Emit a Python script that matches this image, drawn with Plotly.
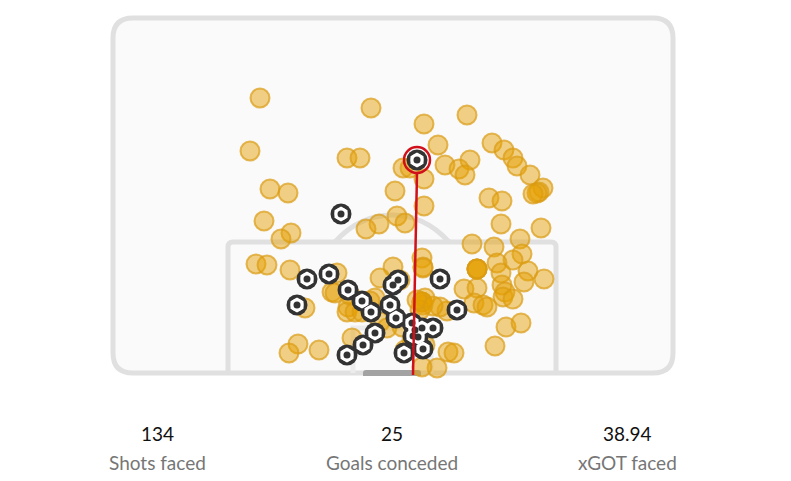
import plotly.graph_objects as go

# Shot positions: x = across the goal from its centre, y = out from the goal line
saved_x = [-132, -21, 32, 75, 46, -142, -45, -32, 100, 112, 121, 125, 78, 53, 67, 73, 11, 18, 32, 138,
           151, 147, 145, 141, -122, -104, 3, 97, 110, 32, -128, 5, 13, -13, -26, 109, 149, -101, -111,
           80, 102, 128, 130, 121, 105, 109, 136, 132, 152, 85, 85, 85, 85, 110, 113, 111, 121, 72, 85,
           82, 91, 95, 55, 48, 114, 129, 103, 56, 62, 45, 30,
           -136, -125, -102, -55, -60, -57, -87, 1, -12, 8, 30, 31, 31,
           30, 30, 30, 31, 28, 33, 25, 41,
           -17, -44, -45, -37, -12, -5, 10, -40, -94, -103, -73,
           -30, -22, 20, 33, 13, -42]
saved_y = [277, 267, 251, 260, 230, 224, 217, 217, 232, 225, 217, 209, 215, 210, 206, 200, 207, 207, 196, 200,
           187, 183, 182, 181, 186, 182, 184, 177, 174, 169, 154, 159, 152, 151, 146, 151, 147, 142, 136,
           131, 128, 136, 121, 115, 112, 102, 104, 93, 96, 106, 106, 106, 106, 90, 83, 78, 76, 86, 87,
           72, 70, 68, 64, 68, 48, 52, 29, 23, 22, 7, 8,
           111, 110, 105, 102, 83, 82, 67, 108, 97, 95, 117, 108, 107,
           73, 73, 73, 70, 65, 77, 75, 69,
           77, 68, 63, 63, 53, 47, 48, 37, 31, 22, 25,
           63, 74, 35, 30, 25, 80]

goal_x = [-85, -63, -44, -30, -21, -95, 1, 6, 48, -2, 4, 65, 20, 30, 41, 21, 26, -17, -29, -45, 12, 31, -51, 23, 25]
goal_y = [96, 101, 85, 74, 63, 70, 90, 95, 96, 70, 57, 65, 52, 47, 47, 39, 38, 42, 30, 20, 22, 26, 161, 45, 215]

# Highlighted goal and where it crosses the line
selected_x = [25]
selected_y = [215]
line_end_x = [21]
line_end_y = [0]

stat_values = ["134", "25", "38.94"]
stat_labels = ["Shots faced", "Goals conceded", "xGOT faced"]
stat_x = [-235, 0, 235]

LINE = "#e0e0e0"
DARK = "#333333"
RED = "#d0111b"

fig = go.Figure()

# Pitch
fig.add_shape(type="path", layer="below",
              path="M -279 22 L -279 337 Q -279 357 -259 357 L 261 357 Q 281 357 281 337 "
                   "L 281 22 Q 281 2 261 2 L -259 2 Q -279 2 -279 22 Z",
              fillcolor="#fafafa", line=dict(color=LINE, width=5))
fig.add_shape(type="path", layer="below",
              path="M -57 133 C -40 152 -22 160 0 160 C 22 160 40 152 57 133",
              line=dict(color=LINE, width=5))
fig.add_shape(type="path", layer="below",
              path="M -164 2 L -164 128 Q -164 133 -159 133 L 159 133 Q 164 133 164 128 L 164 2",
              line=dict(color=LINE, width=5))
fig.add_shape(type="path", layer="below",
              path="M -39 2 L -39 47 L 39 47 L 39 2",
              line=dict(color="#ececec", width=5))
fig.add_shape(type="path", layer="below",
              path="M -29 -1 L -29 2 Q -29 5 -26 5 L 26 5 Q 29 5 29 2 L 29 -1 Z",
              fillcolor="#a3a3a3", line=dict(width=0))

# Shots that did not go in
fig.add_trace(go.Scatter(x=saved_x, y=saved_y, mode="markers", hoverinfo="skip",
                         marker=dict(size=19, color="rgba(229,160,0,0.47)",
                                     line=dict(color="rgba(218,155,20,0.7)", width=2))))

# Goals, drawn as a small ball from stacked markers
fig.add_trace(go.Scatter(x=goal_x, y=goal_y, mode="markers", hoverinfo="skip",
                         marker=dict(size=21, color=DARK, line=dict(width=0))))
fig.add_trace(go.Scatter(x=goal_x, y=goal_y, mode="markers", hoverinfo="skip",
                         marker=dict(size=13, color="white", line=dict(width=0))))
fig.add_trace(go.Scatter(x=goal_x, y=goal_y, mode="markers", hoverinfo="skip",
                         marker=dict(size=15, symbol="hexagon", color="white", line=dict(width=0))))
fig.add_trace(go.Scatter(x=goal_x, y=goal_y, mode="markers", hoverinfo="skip",
                         marker=dict(size=7, color=DARK, line=dict(width=0))))

# Highlighted shot
fig.add_trace(go.Scatter(x=selected_x + line_end_x, y=[selected_y[0] - 13] + line_end_y, mode="lines",
                         hoverinfo="skip", line=dict(color=RED, width=2.5)))
fig.add_trace(go.Scatter(x=selected_x, y=selected_y, mode="markers", hoverinfo="skip",
                         marker=dict(size=26, symbol="circle-open", color=RED, line=dict(color=RED, width=2.5))))

# Stats under the pitch
for sx, val, lab in zip(stat_x, stat_values, stat_labels):
    fig.add_annotation(x=sx, y=-58, text=val, showarrow=False,
                       font=dict(family="Lato", size=19, color="#111111"))
    fig.add_annotation(x=sx, y=-87, text=lab, showarrow=False,
                       font=dict(family="Lato", size=19, color="#767676"))

# the page body has an 8px margin, so the plot area starts 8px in
fig.update_layout(
    width=783, height=473,
    margin=dict(l=0, r=0, t=0, b=0),
    paper_bgcolor="white", plot_bgcolor="white",
    showlegend=False,
    xaxis=dict(range=[-384, 399], visible=False, fixedrange=True),
    yaxis=dict(range=[-106, 367], visible=False, fixedrange=True),
)

fig.write_html("out.html", config=dict(displayModeBar=False))
